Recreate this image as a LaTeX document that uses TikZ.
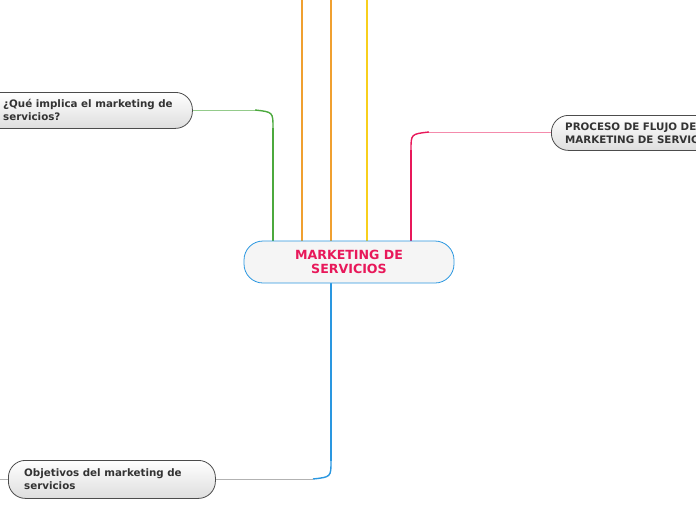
\documentclass[tikz,border=0pt]{standalone}
\usepackage{fontspec}
\setmainfont{DejaVu Sans}
\begin{document}
\begin{tikzpicture}[x=1pt,y=-1pt,
  sub/.style={draw=black!70,line width=0.8pt,rounded corners=17pt,top color=white,bottom color=black!13,inner sep=0pt},
  subtext/.style={anchor=west,font=\fontsize{10.3}{13}\selectfont\bfseries,text=black!80,align=left,inner sep=0pt},
  thick line/.style={line width=2.2pt},
  thin line/.style={line width=0.7pt}]
\useasboundingbox (0,0) rectangle (696,520);
\clip (0,0) rectangle (696,520);
\definecolor{cor}{HTML}{F0A030}
\definecolor{cyl}{HTML}{F8CF1C}
\definecolor{cgr}{HTML}{4CA93E}
\definecolor{cpk}{HTML}{E8185A}
\definecolor{cbl}{HTML}{2A97E0}
\coordinate (t1) at (302,0); \coordinate (t2) at (331,0); \coordinate (t3) at (367,0);
\coordinate (b1) at (302,241); \coordinate (b2) at (331,241); \coordinate (b3) at (367,241);
\draw[thick line,cor] (t1)--(b1);
\draw[thick line,cor] (t2)--(b2);
\draw[thick line,cyl] (t3)--(b3);
% green
\coordinate (g0) at (273,241); \coordinate (g1) at (273,128); \coordinate (g2) at (255,110);
\draw[thick line,cgr] (g0)--(g1);
\draw[cgr,line width=1.4pt] (g1) .. controls (273,112) .. (g2);
\draw[thin line,cgr!60] (g2)--(192,110);
% pink
\coordinate (p0) at (411,241); \coordinate (p1) at (411,150); \coordinate (p2) at (429,132);
\draw[thick line,cpk] (p0)--(p1);
\draw[cpk,line width=1.4pt] (p1) .. controls (411,134) .. (p2);
\draw[thin line,cpk!50] (p2)--(551,132);
% blue
\coordinate (q0) at (331,281); \coordinate (q1) at (331,461); \coordinate (q2) at (313,479);
\draw[thick line,cbl] (q0)--(q1);
\draw[cbl,line width=1.4pt] (q1) .. controls (331,477) .. (q2);
\draw[thin line,black!30] (q2)--(215,479);
\draw[thin line,black!30] (0,479)--(9,479);
% nodes
\node[draw=cbl,line width=0.8pt,rounded corners=19pt,fill=black!4,minimum width=210pt,minimum height=42pt,align=center,text=cpk,font=\fontsize{12.6}{14}\selectfont\bfseries] (c) at (349,262) {MARKETING DE\\SERVICIOS};
\node[sub,minimum width=220pt,minimum height=36pt,anchor=north west] (a) at (-28,92) {};
\node[subtext] (at) at (3,110) {¿Qué implica el marketing de\\servicios?};
\node[sub,minimum width=180pt,minimum height=35pt,anchor=north west] (r) at (551,115) {};
\node[subtext] (rt) at (565,133) {PROCESO DE FLUJO DE\\MARKETING DE SERVICIOS};
\node[sub,minimum width=207pt,minimum height=38pt,anchor=north west] (o) at (8,460) {};
\node[subtext] (ot) at (24,479) {Objetivos del marketing de\\servicios};
\end{tikzpicture}
\end{document}
